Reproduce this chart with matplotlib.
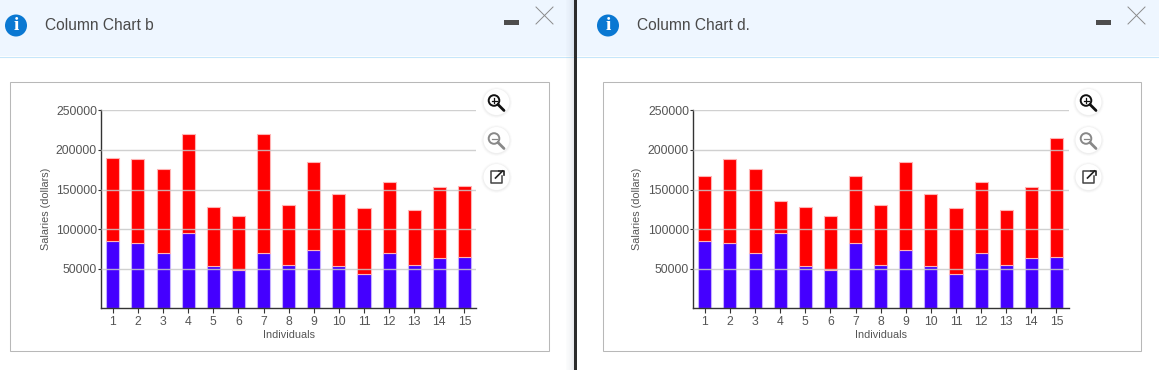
import matplotlib
matplotlib.use('Agg')
import matplotlib.pyplot as plt
from matplotlib.patches import Circle, Rectangle

plt.rcParams['font.family'] = ['Liberation Sans', 'DejaVu Sans']

W, H = 1159, 370

individuals = list(range(1, 16))
y_ticks = [50000, 100000, 150000, 200000, 250000]

# chart b
blue_b = [85000, 82500, 70000, 95000, 53000, 48000, 70000, 55000, 74000, 53000, 43000, 70000, 55000, 63000, 65000]
red_b = [105000, 105500, 106000, 125000, 75000, 69000, 150000, 75000, 111000, 91000, 84000, 90000, 69000, 90000, 90000]

# chart d
blue_d = [85000, 82500, 70000, 95000, 53000, 48000, 82500, 55000, 74000, 53000, 43000, 70000, 55000, 63000, 65000]
red_d = [82000, 105500, 106000, 40000, 75000, 69000, 84500, 75000, 111000, 91000, 84000, 90000, 69000, 90000, 150000]

TEXT = '#555555'
DARK = '#333333'


def pixel_axes(x0, y0, x1, y1):
    return fig.add_axes([x0 / W, 1 - y1 / H, (x1 - x0) / W, (y1 - y0) / H])


def draw_chart(x_off, blue, red):
    ax = pixel_axes(100.8 + x_off, 110.3, 476.5 + x_off, 308.3)
    ax.patch.set_alpha(0)
    ax.bar(individuals, blue, width=0.52, color='#4400ff', edgecolor='#c4aeff', linewidth=0.8)
    ax.bar(individuals, red, width=0.52, bottom=blue, color='#ff0000', edgecolor='#ffb4b4', linewidth=0.8)
    ax.set_xlim(0.52, 15.48)
    ax.set_ylim(0, 250000)
    ax.set_xticks(individuals)
    ax.set_yticks(y_ticks)
    ax.grid(axis='y', color='#c8c8c8', linewidth=1.0, alpha=0.85, zorder=5)
    ax.set_axisbelow(False)
    ax.xaxis.grid(False)
    ax.tick_params(axis='y', length=2.5, width=0.8, color=DARK, labelcolor=TEXT, labelsize=8.8, pad=0.2)
    ax.tick_params(axis='x', length=3.5, width=0.8, color=DARK, labelcolor=TEXT, labelsize=8.8, pad=1.8)
    for side in ['top', 'right']:
        ax.spines[side].set_visible(False)
    for side in ['left', 'bottom']:
        ax.spines[side].set_color(DARK)
        ax.spines[side].set_linewidth(1.0)
    ax.set_xlabel('Individuals', fontsize=7.8, color=TEXT, labelpad=1.6)
    ax.set_ylabel('Salaries (dollars)', fontsize=7.8, color=TEXT)
    ax.yaxis.set_label_coords((50.5 - 100.8) / 375.7, 0.5)
    return ax


def magnifier(ax, cx, cy, color, sign):
    ax.add_patch(Circle((cx - 2.5, cy - 1.5), 5.3, fill=False, ec=color, lw=1.4, zorder=8))
    ax.plot([cx + 1.5, cx + 7.5], [cy + 2.5, cy + 8.5], color=color, lw=2.0, zorder=8, solid_capstyle='round')
    ax.plot([cx - 5, cx], [cy - 1.5, cy - 1.5], color=color, lw=0.9, zorder=8)
    if sign == '+':
        ax.plot([cx - 2.5, cx - 2.5], [cy - 4, cy + 1], color=color, lw=0.9, zorder=8)


def button(ax, cx, cy):
    # soft shadow, widest and faintest first
    for r, a in [(15.5, 0.03), (14.6, 0.05), (13.8, 0.07)]:
        ax.add_patch(Circle((cx, cy + 0.5), r, fc='#999999', ec='none', alpha=a, zorder=6))
    ax.add_patch(Circle((cx, cy), 13, fc='white', ec='none', zorder=7))


def draw_chrome(bg, over, x0, x1, box0, box1, icon_x, title, title_x, minus_x, cross_x):
    bg.add_patch(Rectangle((x0, 0), x1 - x0, 56, fc='#eef6ff', ec='none'))
    bg.plot([x0, x1], [56.5, 56.5], color='#c6e6fa', lw=0.8)
    bg.add_patch(Rectangle((box0, 81.5), box1 - box0, 269, fill=False, ec='#b8b8b8', lw=0.75))
    bg.add_patch(Circle((icon_x, 25.5), 11, fc='#0a78d2', ec='none'))
    bg.text(icon_x, 26, 'i', color='white', fontsize=14, fontweight='bold', family='Liberation Serif',
            ha='center', va='center')
    bg.text(title_x, 25, title, color='#4a4a4a', fontsize=11.2, ha='left', va='center')
    bg.add_patch(Rectangle((minus_x, 19.5), 15.5, 5, fc='#4d4d4d', ec='none'))
    bg.plot([cross_x, cross_x + 17], [7, 24], color='#8a8a8a', lw=0.7)
    bg.plot([cross_x, cross_x + 17], [24, 7], color='#8a8a8a', lw=0.7)

    cx = box1 - 52
    for cy in [102, 140, 177]:
        button(over, cx, cy)
    magnifier(over, cx, 102, '#111111', '+')
    magnifier(over, cx, 140, '#888888', '-')
    # open in new window icon
    over.plot([cx + 1, cx - 6, cx - 6, cx + 5, cx + 5], [171, 171, 183, 183, 176], color='#444444', lw=1.1, zorder=8)
    over.plot([cx - 1, cx + 6], [178, 171], color='#222222', lw=1.2, zorder=8)
    over.plot([cx + 2, cx + 7, cx + 7], [170.5, 170.5, 175], color='#222222', lw=1.2, zorder=8)


fig = plt.figure(figsize=(W / 100, H / 100), dpi=100, facecolor='white')

bg = fig.add_axes([0, 0, 1, 1], zorder=0)
bg.set_xlim(0, W)
bg.set_ylim(H, 0)
bg.axis('off')

draw_chart(0, blue_b, red_b).set_zorder(1)
draw_chart(592, blue_d, red_d).set_zorder(1)

over = fig.add_axes([0, 0, 1, 1], zorder=2)
over.set_xlim(0, W)
over.set_ylim(H, 0)
over.axis('off')
over.patch.set_alpha(0)

draw_chrome(bg, over, 0, 574, 10, 548.5, 16, 'Column Chart b', 45, 503.5, 536)
draw_chrome(bg, over, 577, W, 602.5, 1140.5, 608, 'Column Chart d.', 637, 1095.5, 1128)

# dark divider and its shadow
for i, a in enumerate([0.02, 0.03, 0.04, 0.05, 0.07, 0.09, 0.11, 0.14]):
    over.add_patch(Rectangle((566 + i, 0), 1, H, fc='#5a6a80', ec='none', alpha=a, zorder=9))
over.add_patch(Rectangle((574, 0), 3, H, fc='#2b2b2b', ec='none', zorder=10))

fig.savefig('out.png', dpi=100)
